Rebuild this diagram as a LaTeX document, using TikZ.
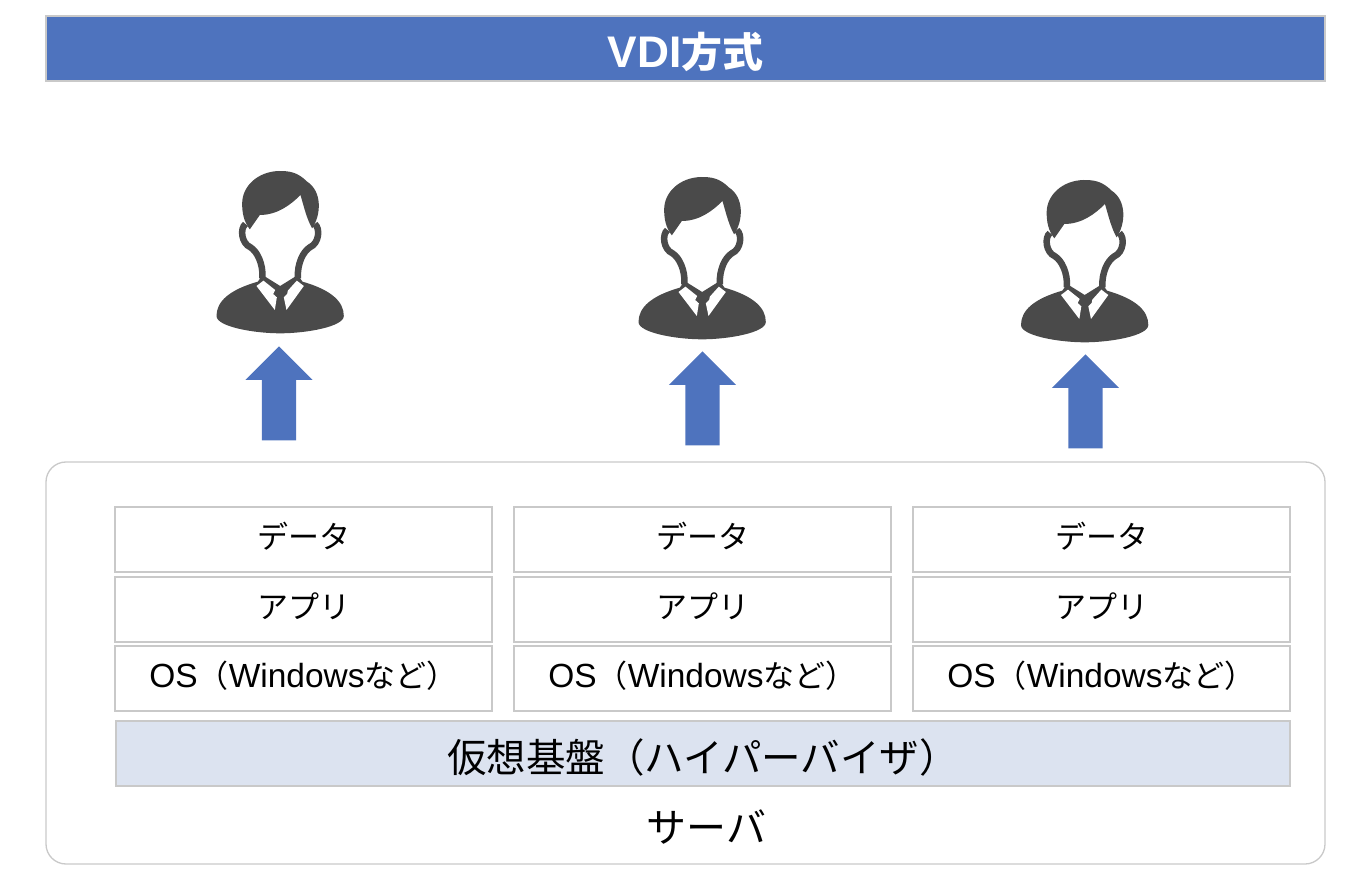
\documentclass[tikz,border=0pt]{standalone}
\usepackage{fontspec}
\setmainfont{Noto Sans CJK JP}
\newfontfamily\latinfont[Scale=1.08]{Liberation Sans}
\usetikzlibrary{shapes,arrows}
\usepackage{xcolor}
\definecolor{barblue}{RGB}{78,115,190}
\definecolor{edgegray}{RGB}{201,201,201}
\definecolor{hyperblue}{RGB}{220,227,240}
\definecolor{persongray}{RGB}{74,74,74}
\newcommand{\oslabel}{{\latinfont OS}（{\latinfont Windows}など）}
\tikzset{
    stackbox/.style={draw=edgegray, line width=1.3pt, minimum width=377pt, minimum height=65pt, inner sep=0pt, text height=26pt, text depth=8pt, font=\fontsize{31}{36}\selectfont},
    uparrow/.style={shape=single arrow, fill=barblue, rotate=90, anchor=tip, inner sep=0pt, text height=34pt, text depth=0pt, minimum height=94pt, single arrow head extend=16.5pt},
    person/.pic={
        \begin{scope}[shift={(-80pt,0pt)}, x=0.3333pt, y=-0.3333pt]
            % hair
            \fill[persongray] (148,208) -- (178,165) .. controls (230,165) and (270,135) .. (300,105)
                .. controls (310,140) and (320,180) .. (335,205) .. controls (362,165) and (366,95) .. (320,65)
                .. controls (290,35) and (265,33) .. (235,33) .. controls (170,35) and (125,80) .. (125,130)
                .. controls (125,160) and (130,185) .. (148,208) -- cycle;
            % ears and neck
            \draw[persongray, line width=6.5pt] (135,192) .. controls (118,205) and (122,250) .. (150,262)
                .. controls (170,275) and (188,310) .. (186,355);
            \draw[persongray, line width=6.5pt] (343,192) .. controls (360,205) and (356,250) .. (328,262)
                .. controls (308,275) and (290,310) .. (292,355);
            % body
            \fill[persongray] (48,468) .. controls (48,425) and (85,390) .. (172,365) -- (186,345) -- (239,378) -- (292,345) -- (306,365)
                .. controls (393,390) and (430,425) .. (430,468) .. controls (430,500) and (318,520) .. (239,520)
                .. controls (160,520) and (48,500) .. (48,468) -- cycle;
            % collar
            \fill[white] (168,378) -- (189,362) -- (224,390) -- (218,402) -- (229,412) -- (223,450) -- cycle;
            \fill[white] (310,378) -- (289,362) -- (262,392) -- (260,402) -- (250,412) -- (258,450) -- cycle;
        \end{scope}
    }
}
\begin{document}
\begin{tikzpicture}[x=1pt, y=-1pt]
    \useasboundingbox (0,0) rectangle (1358,882);

    % Title
    \node[fill=barblue, draw=edgegray, line width=1.3pt, minimum width=1279pt, minimum height=65pt, inner sep=0pt, text=white, text height=40pt, text depth=2.6pt, font=\fontsize{41}{46}\selectfont\bfseries] (title) at (685.5,48.5) {{\latinfont VDI}方式};

    % Users
    \pic (user1) at (280.5,160) {person};
    \pic (user2) at (702.5,166) {person};
    \pic (user3) at (1085,169) {person};

    % Arrows
    \node[uparrow] (arrow1) at (279,346) {};
    \node[uparrow] (arrow2) at (702.5,351) {};
    \node[uparrow] (arrow3) at (1085.5,354) {};

    % Server
    \node[draw=edgegray, line width=1.3pt, rounded corners=20pt, minimum width=1279pt, minimum height=402pt, inner sep=0pt] (server) at (685.5,663) {};

    % Left stack
    \node[stackbox] (data1) at (303.5,539.5) {データ};
    \node[stackbox] (app1) at (303.5,609.5) {アプリ};
    \node[stackbox] (os1) at (303.5,678.5) {\oslabel};

    % Middle stack
    \node[stackbox] (data2) at (702.5,539.5) {データ};
    \node[stackbox] (app2) at (702.5,609.5) {アプリ};
    \node[stackbox] (os2) at (702.5,678.5) {\oslabel};

    % Right stack
    \node[stackbox] (data3) at (1101.5,539.5) {データ};
    \node[stackbox] (app3) at (1101.5,609.5) {アプリ};
    \node[stackbox] (os3) at (1101.5,678.5) {\oslabel};

    % Hypervisor
    \node[fill=hyperblue, draw=edgegray, line width=1.3pt, minimum width=1174pt, minimum height=65pt, inner sep=0pt, text height=40pt, text depth=3pt, font=\fontsize{39.5}{47}\selectfont] (hyper) at (703,753.5) {仮想基盤（ハイパーバイザ）};

    % Label
    \node[font=\fontsize{40}{47}\selectfont] (serverlabel) at (706.5,827) {サーバ};
\end{tikzpicture}
\end{document}
